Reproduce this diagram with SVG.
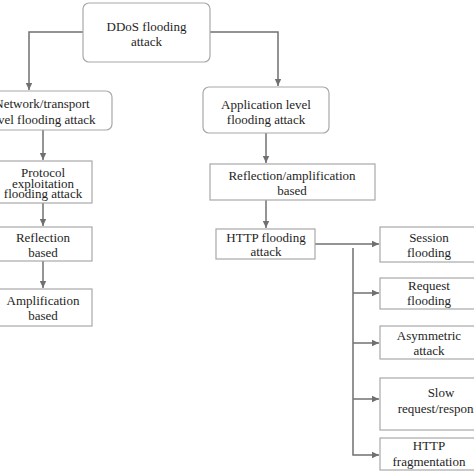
<svg xmlns="http://www.w3.org/2000/svg" width="474" height="474" viewBox="0 0 474 474">
<style>
.box{fill:#fff;stroke:#a8a8a8;stroke-width:1.2}
.t{font-family:"Liberation Serif","DejaVu Serif",serif;font-size:13px;fill:#1e1e1e;text-anchor:middle}
.c{fill:none;stroke:#707070;stroke-width:1.5}
</style>
<defs>
<marker id="ah" markerUnits="userSpaceOnUse" markerWidth="8" markerHeight="8" refX="7" refY="4" orient="auto">
<path d="M0,0.8 L7,4 L0,7.2 Z" fill="#707070"/>
</marker>
</defs>
<rect width="474" height="474" fill="#fff"/>
<g id="connectors">
<path class="c" d="M83,32 H29 V90" marker-end="url(#ah)"/>
<path class="c" d="M210,32 H278 V86" marker-end="url(#ah)"/>
<path class="c" d="M43,130 V160" marker-end="url(#ah)"/>
<path class="c" d="M43,203 V226" marker-end="url(#ah)"/>
<path class="c" d="M43,261 V288" marker-end="url(#ah)"/>
<path class="c" d="M266,133 V163" marker-end="url(#ah)"/>
<path class="c" d="M266,200 V228" marker-end="url(#ah)"/>
<path class="c" d="M315,244 H379" marker-end="url(#ah)"/>
<path class="c" d="M353,248 V455 H379" marker-end="url(#ah)"/>
<path class="c" d="M353,293 H379" marker-end="url(#ah)"/>
<path class="c" d="M353,343 H379" marker-end="url(#ah)"/>
<path class="c" d="M353,399 H379" marker-end="url(#ah)"/>
</g>
<g id="ddos">
<rect class="box" x="83" y="3" width="127" height="59" rx="6"/>
<text class="t" x="146.5" y="31">DDoS flooding</text>
<text class="t" x="146.5" y="46">attack</text>
</g>
<g id="network">
<rect class="box" x="-30" y="91" width="142" height="39" rx="6"/>
<text class="t" x="42" y="108">Network/transport</text>
<text class="t" x="42" y="124">level flooding attack</text>
</g>
<g id="application">
<rect class="box" x="203" y="87" width="126" height="46" rx="6"/>
<text class="t" x="266" y="109">Application level</text>
<text class="t" x="266" y="124">flooding attack</text>
</g>
<g id="protocol">
<rect class="box" x="-1" y="161" width="93" height="42"/>
<text class="t" x="43" y="177">Protocol</text>
<text class="t" x="43" y="187.5">exploitation</text>
<text class="t" x="43" y="198">flooding attack</text>
</g>
<g id="reflection">
<rect class="box" x="-1" y="227" width="93" height="34"/>
<text class="t" x="43" y="242">Reflection</text>
<text class="t" x="43" y="257">based</text>
</g>
<g id="amplification">
<rect class="box" x="-1" y="289" width="93" height="37"/>
<text class="t" x="43" y="305">Amplification</text>
<text class="t" x="43" y="320">based</text>
</g>
<g id="reflamp">
<rect class="box" x="210" y="164" width="165" height="36"/>
<text class="t" x="292" y="180">Reflection/amplification</text>
<text class="t" x="292" y="195">based</text>
</g>
<g id="http">
<rect class="box" x="216" y="229" width="99" height="30"/>
<text class="t" x="266" y="242">HTTP flooding</text>
<text class="t" x="266" y="256">attack</text>
</g>
<g id="session">
<rect class="box" x="380" y="227" width="100" height="35"/>
<text class="t" x="429" y="242">Session</text>
<text class="t" x="429" y="257">flooding</text>
</g>
<g id="request">
<rect class="box" x="380" y="278" width="100" height="31"/>
<text class="t" x="429" y="290">Request</text>
<text class="t" x="429" y="305">flooding</text>
</g>
<g id="asymmetric">
<rect class="box" x="380" y="326" width="100" height="33"/>
<text class="t" x="429" y="340">Asymmetric</text>
<text class="t" x="429" y="355">attack</text>
</g>
<g id="slow">
<rect class="box" x="380" y="378" width="100" height="52"/>
<text class="t" x="441" y="397">Slow</text>
<text class="t" x="441" y="413">request/response</text>
</g>
<g id="fragmentation">
<rect class="box" x="380" y="438" width="100" height="32"/>
<text class="t" x="429" y="450">HTTP</text>
<text class="t" x="429" y="466">fragmentation</text>
</g>
</svg>
